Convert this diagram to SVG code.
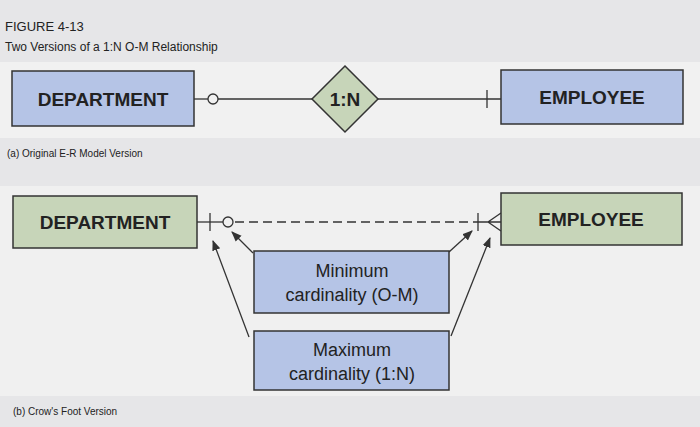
<svg xmlns="http://www.w3.org/2000/svg" width="700" height="427" viewBox="0 0 700 427">
<style>
text{font-family:"Liberation Sans",Arial,sans-serif;fill:#222}
.ent{stroke:#333;stroke-width:1.5}
.b{fill:#b5c4e6}.g{fill:#c7d5b9}
.t{font-size:19px;font-weight:bold;text-anchor:middle}
.c{font-size:18px;text-anchor:middle}
.ln{stroke:#333;stroke-width:1.3;fill:none}
.cap{font-size:10px}
</style>
<defs><marker id="ah" viewBox="0 0 10 10" refX="9" refY="5" markerWidth="8" markerHeight="8" orient="auto"><path d="M0,1L10,5L0,9z" fill="#333"/></marker></defs>
<rect width="700" height="427" fill="#e6e6e8"/>
<rect y="62" width="700" height="76" fill="#f1f1f1"/>
<rect y="186" width="700" height="210" fill="#f0f0f0"/>
<text x="5" y="31" style="font-size:13px">FIGURE 4-13</text>
<text x="5" y="51" style="font-size:12px">Two Versions of a 1:N O-M Relationship</text>
<text x="7" y="157" class="cap">(a) Original E-R Model Version</text>
<text x="13" y="415" class="cap">(b) Crow's Foot Version</text>
<g id="connectors">
<line class="ln" x1="194" y1="99" x2="208" y2="99"/><circle class="ln" cx="213" cy="99" r="5" fill="#fff"/>
<line class="ln" x1="218" y1="99" x2="312" y2="99"/><line class="ln" x1="378" y1="99" x2="501" y2="99"/>
<line class="ln" x1="487" y1="90" x2="487" y2="108"/>
<line class="ln" x1="197" y1="222" x2="223" y2="222"/><line class="ln" x1="210" y1="213" x2="210" y2="231"/>
<circle class="ln" cx="228" cy="222" r="5" fill="#fff"/>
<line class="ln" x1="235" y1="222" x2="478" y2="222" stroke-dasharray="9,5"/>
<line class="ln" x1="478" y1="213" x2="478" y2="231"/>
<path class="ln" d="M478,222H501M501,213L488,222L501,231"/>
<line class="ln" x1="253" y1="253" x2="232" y2="232" marker-end="url(#ah)"/>
<line class="ln" x1="249" y1="337" x2="213" y2="241" marker-end="url(#ah)"/>
<line class="ln" x1="449" y1="252" x2="472" y2="231" marker-end="url(#ah)"/>
<line class="ln" x1="451" y1="336" x2="490" y2="238" marker-end="url(#ah)"/>
</g>
<g id="dept1"><rect class="ent b" x="12" y="71" width="182" height="55"/><text class="t" x="103" y="106">DEPARTMENT</text></g>
<g id="rel"><polygon class="ent g" points="345,66 378,99 345,132 312,99"/><text class="t" x="345" y="106">1:N</text></g>
<g id="emp1"><rect class="ent b" x="501" y="70" width="182" height="54"/><text class="t" x="592" y="104">EMPLOYEE</text></g>
<g id="dept2"><rect class="ent g" x="13" y="196" width="184" height="52"/><text class="t" x="105" y="229">DEPARTMENT</text></g>
<g id="emp2"><rect class="ent g" x="501" y="193" width="181" height="52"/><text class="t" x="591" y="226">EMPLOYEE</text></g>
<g id="min"><rect class="ent b" x="254" y="251" width="195" height="62"/><text class="c" x="352" y="277">Minimum</text><text class="c" x="352" y="301">cardinality (O-M)</text></g>
<g id="max"><rect class="ent b" x="254" y="331" width="195" height="59"/><text class="c" x="352" y="356">Maximum</text><text class="c" x="352" y="380">cardinality (1:N)</text></g>
</svg>
